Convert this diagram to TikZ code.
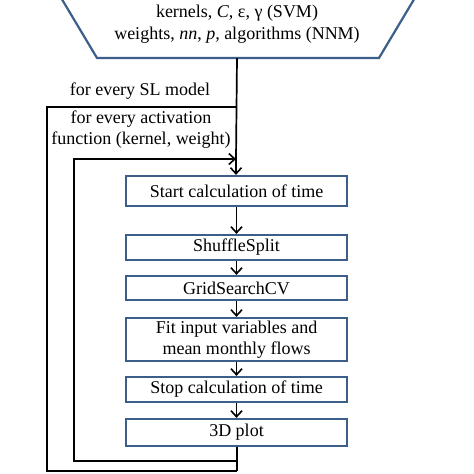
\documentclass[tikz,border=0pt]{standalone}
\usepackage{fontspec}
\setmainfont{Liberation Serif}
\usetikzlibrary{arrows.meta}
\definecolor{boxblue}{RGB}{60,94,138}
\tikzset{
  stepbox/.style={draw=boxblue, line width=2.2pt, fill=white, minimum width=221pt, inner sep=0pt, align=center, font=\fontsize{18}{21.5}\selectfont},
  conn/.style={draw=black, line width=1.7pt},
  arr/.style={conn, -{Straight Barb[length=6pt,width=11pt,line width=1.6pt]}},
  lbl/.style={align=center, font=\fontsize{18}{21.5}\selectfont, inner sep=0pt}
}
\begin{document}
\begin{tikzpicture}[x=1pt,y=-1pt]
\useasboundingbox (0,0) rectangle (474,474);
\clip (0,0) rectangle (474,474);
\fill[white] (0,0) rectangle (474,474);
% hexagon (top part cut off)
\draw[draw=boxblue, line width=2.2pt, fill=white] (54,-14) -- (97,58) -- (379,58) -- (422,-14) -- cycle;
\node[lbl] (hex) at (237,24) {kernels, \textit{C}, ε, γ (SVM)\\weights, \textit{nn}, \textit{p,} algorithms (NNM)};
\coordinate (hexb) at (237,58);
% boxes
\node[stepbox, minimum height=30pt] (b1) at (236.5,191) {Start calculation of time};
\node[stepbox, minimum height=25pt] (b2) at (236.5,247.5) {ShuffleSplit};
\node[stepbox, minimum height=24pt] (b3) at (236.5,288) {GridSearchCV};
\node[stepbox, minimum height=43pt] (b4) at (236.5,339.5) {Fit input variables and\\mean monthly flows};
\node[stepbox, minimum height=25pt] (b5) at (236.5,389.5) {Stop calculation of time};
\node[stepbox, minimum height=27pt] (b6) at (236.5,432.5) {3D plot};
% labels
\node[lbl] (l1) at (140,91) {for every SL model};
\node[lbl] (l2) at (141,129.5) {for every activation\\function (kernel, weight)};
% loop coordinates
\coordinate (otop) at (237,107);
\coordinate (otl) at (47,107);
\coordinate (obl) at (47,471);
\coordinate (obr) at (237,471);
\coordinate (itop) at (236,159);
\coordinate (itl) at (74,159);
\coordinate (ibl) at (74,461);
\coordinate (ibr) at (237,461);
% connectors
\draw[conn] (hexb) -- (itop);
\draw[conn] (otop) -- (otl) -- (obl) -- (obr);
\draw[arr] (ibr) -- (ibl) -- (itl) -- (itop);
\draw[arr] (itop) -- (b1.north -| itop);
\draw[conn] (b6.south -| obr) -- (obr);
\draw[arr] (b1) -- (b2);
\draw[arr] (b2) -- (b3);
\draw[arr] (b3) -- (b4);
\draw[arr] (b4) -- (b5);
\draw[arr] (b5) -- (b6);
\end{tikzpicture}
\end{document}
